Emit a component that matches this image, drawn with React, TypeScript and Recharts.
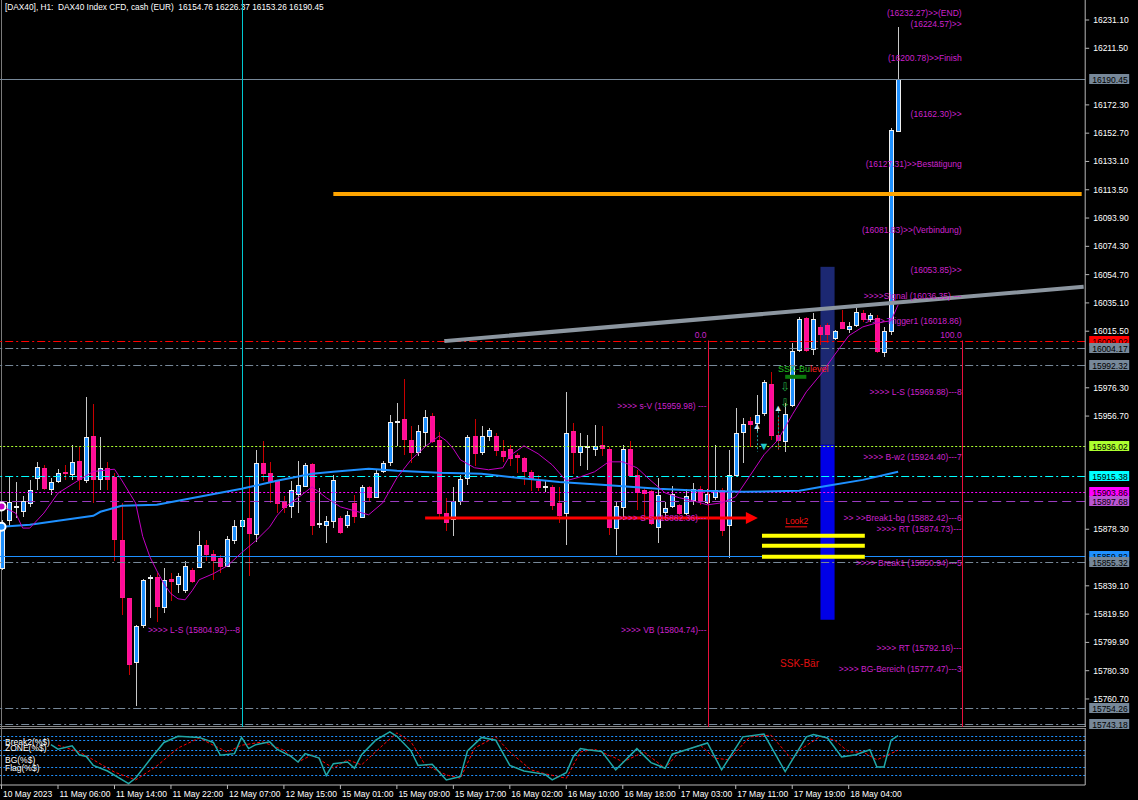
import React from 'react';
import {
  ComposedChart,
  Bar,
  Line,
  XAxis,
  YAxis,
  ReferenceLine,
  ReferenceDot,
  ReferenceArea,
} from 'recharts';

// ---------------- DATA ----------------
const opens = [
  15851, 15884.8, 15894, 15891.3, 15896.8, 15913.7, 15920.9, 15905.6, 15911.4, 15918,
  15917.2, 15925.7, 15912.5, 15943, 15913, 15920.6, 15914.8, 15871, 15830.6, 15786.1,
  15812.1, 15844.5, 15845.2, 15824.8, 15843.8, 15840.5, 15836.4, 15849.8, 15852.1, 15867.1,
  15861.3, 15858.3, 15853, 15870.5, 15880, 15886, 15875.2, 15924.1, 15917.2, 15911.4,
  15897.5, 15894.5, 15902.9, 15908.4, 15923.6, 15882.1, 15881.4, 15884.4, 15886, 15881.4,
  15896.8, 15887.1, 15907.4, 15901, 15918.3, 15925.2, 15953.1, 15954.6, 15940.3, 15932.1,
  15946, 15956.9, 15939.8, 15889.5, 15886, 15897.5, 15914.4, 15943, 15932.1, 15943.2,
  15943.2, 15932.6, 15934, 15929.9, 15927.6, 15918.3, 15911.9, 15907.9, 15907.9, 15896.4,
  15889.5, 15946.5, 15932.1, 15935.6, 15934.3, 15936.6, 15934, 15879.1, 15893.6, 15933.8,
  15916, 15905.6, 15904.5, 15879.8, 15890, 15894.5, 15895.2, 15889.5, 15898.7, 15906.1,
  15897.5, 15901, 15905.6, 15881.4, 15916, 15945.3, 15953, 15952.2, 15958.3, 15979,
  15943.7, 15939.8, 15964.5, 16002.6, 16024.5, 16003.1, 16018.3, 16019.9, 16010.7, 16022.2,
  16016.9, 16019.9, 16028.4, 16023.8, 16024.5, 16000.7, 16015.3, 16154.76,
];
const highs = [
  15885, 15914.6, 15911, 15901, 15912.5, 15925.2, 15922.9, 15913.7, 15920, 15922.9,
  15936.8, 15935.6, 15970.2, 15965.2, 15942.5, 15925.2, 15917.2, 15896.4, 15831, 15812.1,
  15843.8, 15846.8, 15847.9, 15851.4, 15847.9, 15847.9, 15856, 15851.4, 15876.8, 15871,
  15864.1, 15860.6, 15873.3, 15884.9, 15885, 15914.8, 15933.3, 15939.1, 15925.2, 15912.5,
  15901, 15911.4, 15925.9, 15924.1, 15924.1, 15906.8, 15887.6, 15916, 15887.6, 15890.6,
  15902.2, 15909, 15908.5, 15919, 15925.5, 15957.6, 15966, 15982.3, 15949.5, 15950.6,
  15961.1, 15958.5, 15946, 15899.9, 15907.5, 15915.7, 15943.7, 15954.6, 15949.5, 15948.4,
  15944.9, 15939.8, 15936.8, 15931.1, 15928.3, 15919.5, 15916, 15911.4, 15909, 15907.5,
  15973.7, 15951.8, 15944.9, 15943.7, 15950.6, 15949.5, 15935.6, 15897.5, 15936.8, 15939.1,
  15919.5, 15907.9, 15905.6, 15913.7, 15897.5, 15908.2, 15895.5, 15906, 15910.2, 15908,
  15906, 15936.8, 15906.8, 15933.3, 15962.2, 15955.3, 15956.4, 15971.4, 15981.8, 15987.5,
  15956.4, 15965.7, 16007.2, 16025.6, 16025.6, 16028, 16019.9, 16021, 16016.4, 16030.3,
  16022.2, 16031.4, 16030.3, 16028, 16026.8, 16018.7, 16156.1, 16226.37,
];
const lows = [
  15850, 15880, 15886, 15887, 15894, 15905.6, 15905.6, 15902.2, 15910, 15912.5,
  15912.5, 15905.6, 15910.3, 15896.8, 15905.6, 15905.6, 15856, 15819.1, 15777.5, 15755.6,
  15810, 15816.8, 15813.8, 15820.2, 15828.3, 15834, 15834, 15841, 15851.4, 15856,
  15843.3, 15847.9, 15852.5, 15868.2, 15879, 15845.6, 15869.8, 15911.4, 15896.4, 15889.5,
  15889.5, 15886, 15889.5, 15907.7, 15874.5, 15879.1, 15868.7, 15879.1, 15875, 15879.1,
  15882.6, 15886, 15898, 15900, 15917.2, 15921.8, 15936.1, 15929.9, 15924.1, 15928.7,
  15935.6, 15938, 15887.1, 15876.8, 15873.3, 15895, 15909, 15921.8, 15929.9, 15939.1,
  15929.2, 15925.2, 15921.8, 15917.2, 15909, 15904.5, 15905.1, 15903.8, 15891.8, 15882.6,
  15867.5, 15916.7, 15921.8, 15919.5, 15929.2, 15929.2, 15874.5, 15860.6, 15884.9, 15914.8,
  15891.8, 15884.9, 15881.4, 15868.7, 15885, 15893, 15888, 15888.5, 15895.2, 15895,
  15896, 15898.7, 15873.3, 15858.6, 15915, 15924.1, 15935.6, 15944.9, 15957, 15940.3,
  15933.3, 15932.1, 15963.3, 16001.4, 16001.4, 15999.1, 16006, 16007.2, 16009.5, 16016.9,
  16014.1, 16018.7, 16022.2, 16022.2, 16000.3, 15997.9, 16013, 16153.26,
];
const closes = [
  15881, 15897.3, 15894.6, 15898.2, 15905.6, 15921.3, 15907, 15910.7, 15917.2, 15917.3,
  15925.2, 15913, 15942.5, 15913, 15920.6, 15913, 15871.5, 15831.3, 15785.1, 15811,
  15843.3, 15844.9, 15825.3, 15843.3, 15842.2, 15846.1, 15853, 15842.1, 15867.1, 15860.6,
  15857.1, 15852.5, 15871.5, 15880.2, 15884.4, 15875.6, 15924.1, 15917.2, 15911.4, 15896.4,
  15894, 15905.6, 15909.1, 15922.9, 15881.4, 15882.5, 15884.2, 15912.5, 15876.4, 15888.3,
  15888.1, 15907.9, 15900.3, 15917.6, 15924.1, 15952.9, 15953.5, 15940.7, 15932.1, 15946.5,
  15956.4, 15939.8, 15889.5, 15883, 15898.2, 15913, 15942.5, 15931.4, 15943.2, 15947.2,
  15933.3, 15929.2, 15927.6, 15928.3, 15918.3, 15913.7, 15907.5, 15908.2, 15895.2, 15888.3,
  15944.9, 15932.1, 15936.1, 15935.9, 15936.1, 15934.5, 15879.8, 15894.1, 15933.8, 15916,
  15904.5, 15903.3, 15882.6, 15902.2, 15893, 15902.9, 15890, 15901, 15906.1, 15898.2,
  15902.9, 15905.6, 15877.9, 15916, 15944.9, 15951.1, 15951.2, 15957.6, 15980, 15943.7,
  15940.3, 15958.3, 16002.1, 16023.8, 16002.6, 16023.8, 16013.7, 16013.7, 16015.3, 16017.7,
  16019.2, 16029.1, 16024.5, 16026.8, 16001.4, 16015.3, 16154.76, 16190.45,
];

// moving averages: [bar index, price]
const maFastPts: [number, number][] = [
  [0, 15894.1], [2, 15889.5], [3, 15879.1], [4, 15879.1], [6, 15889.5], [8, 15903.3], [11, 15912.5],
  [13, 15918.3], [16, 15919.9], [17, 15912.5], [19, 15896.4], [20, 15873.3], [21, 15859.3], [22, 15849.5],
  [23, 15840.5], [24, 15833.6], [25, 15830.1], [26, 15829.4], [27, 15835.7], [28, 15843.3], [30, 15847.5],
  [32, 15853], [34, 15862], [36, 15870.3], [38, 15880], [39, 15887.6], [40, 15893.1], [42, 15900.1],
  [44, 15907.7], [46, 15900.1], [48, 15893.8], [51, 15889.7], [52, 15888.3], [54, 15896.6], [56, 15913.9],
  [58, 15926.4], [60, 15935.4], [62, 15943], [63, 15939.6], [64, 15934], [65, 15926.4], [67, 15920.9],
  [69, 15919.5], [71, 15920.9], [72, 15929.2], [74, 15936.1], [76, 15930.6], [78, 15922.9], [80, 15911.9],
  [82, 15914.6], [84, 15918.1], [86, 15925], [88, 15925], [90, 15920.9], [92, 15911.9], [94, 15903.5],
  [96, 15900.1], [98, 15898], [100, 15895.2], [102, 15896.6], [104, 15900.8], [106, 15915.3], [108, 15929.9],
  [110, 15940.3], [112, 15957.6], [114, 15973.5], [116, 15985.3], [118, 15999.1], [120, 16012.3],
  [122, 16018.5], [124, 16021.3], [126, 16022.7], [127, 16033.8],
];
const maSlowPts: [number, number][] = [
  [0, 15880.0], [4, 15881.4], [8, 15884.2], [13, 15887.6], [14, 15890.4], [17, 15894.5], [22, 15895.2],
  [28, 15900.8], [34, 15906.3], [39, 15911.9], [44, 15916.7], [47, 15918.1], [52, 15920.2], [56, 15918.8],
  [62, 15917.4], [68, 15916.7], [73, 15913.9], [79, 15911.1], [85, 15909.1], [93, 15906.3], [99, 15904.9],
  [105, 15904.2], [113, 15904.9], [117, 15908.4], [122, 15912.5], [127, 15918.1],
];

// stochastic panel: [bar index, value 0..100]
const stochKPts: [number, number][] = [
  [7, 72], [8, 64], [10, 70], [11, 54], [12, 51], [13, 35], [15, 25], [18, 2.5], [19, 12.5], [21, 45],
  [23, 76], [25, 87], [28, 85], [30, 76], [31, 53], [33, 56], [34, 85], [35, 65], [36, 72], [38, 77],
  [39, 64], [41, 51], [42, 41], [43, 56], [45, 48], [46, 17], [47, 38], [49, 41], [50, 30], [51, 54],
  [53, 80], [55, 95], [56, 87], [58, 61], [59, 35], [61, 37], [63, 9], [65, 15], [66, 61], [68, 85],
  [70, 80], [72, 35], [74, 25], [77, 19], [78, 9], [80, 22], [81, 51], [82, 65], [83, 63], [85, 60],
  [87, 27], [90, 65], [92, 40], [94, 30], [95, 55], [97, 63], [100, 75], [102, 27], [105, 86], [108, 91],
  [111, 24], [114, 86], [115, 90], [117, 84], [119, 50], [121, 54], [123, 63], [124, 32], [125, 32],
  [126, 80], [127, 88],
];
const stochDPts: [number, number][] = [
  [8, 71], [11, 59], [13, 45], [16, 23], [19, 9], [22, 34], [25, 66], [28, 84], [30, 71], [32, 59],
  [34, 71], [37, 77], [40, 62], [42, 41], [44, 54], [47, 30], [49, 45], [51, 36], [54, 71], [56, 93],
  [58, 77], [60, 36], [63, 18], [65, 12], [67, 66], [70, 86], [72, 59], [75, 27], [77, 20], [80, 12],
  [82, 59], [84, 64], [87, 48], [88, 41], [91, 59], [94, 30], [96, 59], [99, 71], [101, 48], [103, 45],
  [106, 86], [109, 89], [112, 45], [113, 62], [116, 87], [118, 80], [120, 59], [122, 59], [124, 45],
  [127, 62],
];
const stochLevels = [88, 80, 62, 54, 32, 17];

// time axis labels (bar index, text)
const timeTickIdx = [0, 8, 16, 24, 32, 40, 48, 56, 64, 72, 80, 88, 96, 104, 112, 120];
const timeTickLabels = [
  '10 May 2023', '11 May 06:00', '11 May 14:00', '11 May 22:00', '12 May 07:00', '12 May 15:00',
  '15 May 01:00', '15 May 09:00', '15 May 17:00', '16 May 02:00', '16 May 10:00', '16 May 18:00',
  '17 May 03:00', '17 May 11:00', '17 May 19:00', '18 May 04:00',
];

// price axis ticks that are visible
const priceTicks = [
  16231.1, 16211.5, 16172.3, 16152.7, 16133.1, 16113.5, 16093.9, 16074.3, 16054.7, 16035.1,
  16015.5, 15976.3, 15956.7, 15878.3, 15839.1, 15819.5, 15799.9, 15780.3, 15760.7,
];

// horizontal price levels (with tags on the price scale)
const levelPrices = [
  16190.45, 16009.02, 16004.17, 15992.32, 15936.02, 15915.38, 15903.86, 15897.68,
  15859.82, 15855.32, 15754.26, 15743.18,
];

// text annotations
const rightNotes = [
  '(16232.27)>>(END)', '(16224.57)>>', '(16200.78)>>Finish', '(16162.30)>>',
  '(16127.31)>>Bestätigung', '(16081.83)>>(Verbindung)', '(16053.85)>>',
  '>>>>Signal (16036.35) ---', '> > > Trigger1 (16018.86)', '100.0',
  '>>>> L-S (15969.88)---8', '>>>> B-w2 (15924.40)---7', '>> >>Break1-bg (15882.42)---6',
  '>>>> RT (15874.73)---', '>>>> Break1 (15850.94)---5', '>>>> RT (15792.16)---',
  '>>>> BG-Bereich (15777.47)---3',
];
const rightNotePrices = [
  16232.27, 16224.57, 16200.78, 16162.3, 16127.31, 16081.83, 16053.85, 16036.35, 16018.86,
  16009.02, 15969.88, 15924.4, 15882.42, 15874.73, 15850.94, 15792.16, 15777.47,
];
const midNotes = ['0.0', '>>>> s-V (15959.98) ---', '>>>> S-S (15882.36)---', '>>>> VB (15804.74)---'];
const midNotePrices = [16009.02, 15959.98, 15882.36, 15804.74];
const leftNotes = ['>>>> L-S (15804.92)---8'];
const leftNotePrices = [15804.92];

// drawn objects
const orangeLevel = 16110.6;
const trendStart = 16008.8;
const trendEnd = 16046.2;
const arrowLevel = 15886;
const yellowLevels = [15873.8, 15866.9, 15859.3];
const zoneTop = 16060.1;
const zoneMid = 15936.8;
const zoneBottom = 15815.6;
const bullLevel = 15983.9;
const lookLevel = 15881.7;
const bearLabelLevel = 15783.1;
const fiboLevel = 16009.02;

const HEADER = '[DAX40], H1:  DAX40 Index CFD, cash (EUR)  16154.76 16226.37 16153.26 16190.45';

// ---------------- LAYOUT / STYLE ----------------
const FONT = '"Liberation Sans", Arial, sans-serif';
const W = 1138;
const MAIN_H = 735;
const MAIN_PAD = 8;
const AXIS_W = 52.8;
const SLOTS = 154;
const PRICE_MIN = 15741.29;
const PRICE_MAX = 16244.96;
const NOTE = '#cc22cc';
const GRID = '#b8b8b8';

const levelStyles = [
  { stroke: '#778899', dash: undefined, bg: '#778899' },
  { stroke: '#ff0000', dash: '8 3 2 3', bg: '#ff0000' },
  { stroke: '#778899', dash: '8 3 2 3', bg: '#778899' },
  { stroke: '#778899', dash: '8 3 2 3', bg: '#778899' },
  { stroke: '#adff2f', dash: '2 2', bg: '#adff2f' },
  { stroke: '#00ffff', dash: '8 3 2 3', bg: '#00ffff' },
  { stroke: '#ff00ff', dash: '2 2', bg: '#ff00ff' },
  { stroke: '#9b3cc0', dash: '9 5', bg: '#ba55d3' },
  { stroke: '#1e90ff', dash: undefined, bg: '#1e90ff' },
  { stroke: '#778899', dash: '8 3 2 3', bg: '#778899' },
  { stroke: '#778899', dash: '8 3 2 3', bg: '#778899' },
  { stroke: '#778899', dash: '8 3 2 3', bg: '#778899' },
];

// ---------------- TABLE ----------------
type Row = {
  i: number;
  o: number | null;
  h: number | null;
  l: number | null;
  c: number | null;
  fast: number | null;
  slow: number | null;
  k: number | null;
  d: number | null;
};
const rows: Row[] = Array.from({ length: SLOTS }, (_, i) => ({
  i,
  o: i < opens.length ? opens[i] : null,
  h: i < highs.length ? highs[i] : null,
  l: i < lows.length ? lows[i] : null,
  c: i < closes.length ? closes[i] : null,
  fast: null,
  slow: null,
  k: null,
  d: null,
}));
maFastPts.forEach(([i, v]) => (rows[i].fast = v));
maSlowPts.forEach(([i, v]) => (rows[i].slow = v));
stochKPts.forEach(([i, v]) => (rows[i].k = v));
stochDPts.forEach(([i, v]) => (rows[i].d = v));

const rangeKey = (r: Row) => (r.o == null ? null : [r.l, r.h]);

// ---------------- SHAPES ----------------
const Candle = (props: any) => {
  const { x, y, width, height, payload } = props;
  if (!payload || payload.o == null || x == null) return null;
  const { o, h, l, c } = payload as any;
  const top = Math.min(y, y + height);
  const bot = Math.max(y, y + height);
  const span = h - l;
  const py = (p: number) => (span > 0 ? top + ((h - p) / span) * (bot - top) : top);
  const cx = Math.round(x + width / 2) + 0.5;
  const bull = c >= o;
  const yO = py(o);
  const yC = py(c);
  const bTop = Math.round(Math.min(yO, yC)) + 0.5;
  const bH = Math.max(1, Math.round(Math.abs(yO - yC)));
  return (
    <g>
      <line x1={cx} x2={cx} y1={Math.round(top)} y2={Math.round(bot)} stroke={bull ? '#c8c8c8' : '#c80000'} strokeWidth={1} />
      <rect
        x={cx - 2}
        y={bTop}
        width={4}
        height={bH}
        fill={bull ? '#1e90ff' : '#ff0a9c'}
        stroke={bull ? '#eeeeee' : '#ff1a8c'}
        strokeWidth={1}
      />
    </g>
  );
};

// thin line shape with explicit colour, snapped to the pixel grid
const thinLine = (stroke: string, dash?: string) => (p: any) => {
  const snap = (v: number) => Math.round(v) + 0.5;
  const vertical = Math.abs(p.x1 - p.x2) < 0.01;
  const horizontal = Math.abs(p.y1 - p.y2) < 0.01;
  return (
    <line
      x1={vertical ? snap(p.x1) : p.x1}
      x2={vertical ? snap(p.x2) : p.x2}
      y1={horizontal ? snap(p.y1) : p.y1}
      y2={horizontal ? snap(p.y2) : p.y2}
      stroke={stroke}
      strokeWidth={1}
      strokeDasharray={dash}
      fill="none"
    />
  );
};

const PriceTag = (bg: string, value: number) => (props: any) => {
  const vb = props.viewBox || {};
  const x0 = (vb.x || 0) + (vb.width || 0) + 4;
  const y0 = vb.y || 0;
  return (
    <g>
      <rect x={x0} y={Math.round(y0) - 5} width={40} height={10} fill={bg} />
      <text x={x0 + 3} y={Math.round(y0) + 3.5} fill="#000" fontSize={8.5} fontFamily={FONT}>
        {value.toFixed(2)}
      </text>
    </g>
  );
};

const textShape =
  (text: string, anchor: 'start' | 'middle' | 'end', color: string, size = 8.5, dx = 0, dy = -2.5) =>
  (p: any) => (
    <text x={p.cx + dx} y={p.cy + dy} textAnchor={anchor} fill={color} fontSize={size} fontFamily={FONT}>
      {text}
    </text>
  );

const YTick = (p: any) => (
  <text x={p.x} y={p.y + 3} fill="#ffffff" fontSize={8.5} fontFamily={FONT} textAnchor="start">
    {Number(p.payload.value).toFixed(2)}
  </text>
);

const XTick = (p: any) => {
  const idx = timeTickIdx.indexOf(Number(p.payload.value));
  return (
    <text x={p.x + 1.5} y={p.y + 6} fill="#ffffff" fontSize={8.5} fontFamily={FONT} textAnchor="start">
      {idx >= 0 ? timeTickLabels[idx] : ''}
    </text>
  );
};

const zoneShape = (fill: string) => (p: any) => {
  const half = (p.width || 0) / 6;
  return <rect x={p.x + half} y={p.y} width={p.width - 2 * half} height={p.height} fill={fill} />;
};

// ---------------- APP ----------------
export default function App() {
  return (
    <div
      style={{
        position: 'absolute',
        left: 0,
        top: 0,
        width: W,
        height: 800,
        background: '#000',
        overflow: 'hidden',
        fontFamily: FONT,
      }}
    >
      {/* panel separators and left frame */}
      <div style={{ position: 'absolute', left: 0, top: 726, width: 1086, height: 1, background: '#8a8a8a' }} />
      <div style={{ position: 'absolute', left: 0, top: 728, width: 1086, height: 1, background: '#8a8a8a' }} />
      <div style={{ position: 'absolute', left: 1, top: 0, width: 1, height: 786, background: '#7a7a7a' }} />

      {/* header */}
      <div
        style={{
          position: 'absolute',
          left: 5,
          top: 2,
          color: '#ffffff',
          fontSize: 8.3,
          fontFamily: FONT,
          whiteSpace: 'pre',
          lineHeight: '11px',
        }}
      >
        {HEADER}
      </div>

      {/* indicator panel */}
      <div style={{ position: 'absolute', left: 0, top: 727 }}>
        <ComposedChart width={W} height={73} data={rows} margin={{ top: 2, right: 0, left: -2, bottom: 0 }}>
          <XAxis
            dataKey="i"
            height={15}
            ticks={timeTickIdx}
            interval={0}
            tickSize={4}
            tickMargin={2}
            tickLine={{ stroke: GRID }}
            axisLine={{ stroke: GRID }}
            tick={<XTick />}
          />
          <YAxis
            yAxisId="s"
            orientation="right"
            width={AXIS_W}
            type="number"
            domain={[0, 100]}
            allowDataOverflow
            tick={false}
            tickLine={false}
            axisLine={{ stroke: GRID }}
          />
          {stochLevels.map((v, k) => (
            <ReferenceLine key={'sl' + k} yAxisId="s" y={v} shape={thinLine('#1e90ff', '2 2')} />
          ))}
          <Bar yAxisId="s" dataKey="none" isAnimationActive={false} />
          <Line yAxisId="s" dataKey="d" stroke="#ff0000" strokeDasharray="3 2" strokeWidth={1} dot={false} connectNulls isAnimationActive={false} />
          <Line yAxisId="s" dataKey="k" stroke="#20a8a8" strokeWidth={1.5} dot={false} connectNulls isAnimationActive={false} />
        </ComposedChart>
      </div>

      {/* indicator labels */}
      {['Break2(%$)', 'ZONE(%$)', 'BG(%$)', 'Flag(%$)'].map((t, k) => (
        <div
          key={t}
          style={{
            position: 'absolute',
            left: 5,
            top: [737, 743, 755, 763][k],
            color: '#ffffff',
            fontSize: 8.5,
            fontFamily: FONT,
            lineHeight: '10px',
          }}
        >
          {t}
        </div>
      ))}

      {/* main price panel */}
      <div style={{ position: 'absolute', left: 0, top: 0 }}>
        <ComposedChart
          width={W}
          height={MAIN_H}
          data={rows}
          margin={{ top: 0, right: 0, left: -2, bottom: MAIN_PAD }}
          barCategoryGap={1}
        >
          <XAxis dataKey="i" hide />
          <YAxis
            yAxisId="p"
            orientation="right"
            width={AXIS_W}
            type="number"
            domain={[PRICE_MIN, PRICE_MAX]}
            allowDataOverflow
            ticks={priceTicks}
            interval={0}
            tickSize={4}
            tickMargin={4}
            tickLine={{ stroke: GRID }}
            axisLine={{ stroke: GRID }}
            tick={<YTick />}
          />

          {/* zone rectangle */}
          <ReferenceArea yAxisId="p" x1={116} x2={118} y1={zoneMid} y2={zoneTop} shape={zoneShape('#1c2872')} ifOverflow="visible" />
          <ReferenceArea yAxisId="p" x1={116} x2={118} y1={zoneBottom} y2={zoneMid} shape={zoneShape('#0000e6')} ifOverflow="visible" />

          {/* horizontal levels */}
          {levelPrices.map((p, k) => (
            <ReferenceLine
              key={'lv' + k}
              yAxisId="p"
              y={p}
              shape={thinLine(levelStyles[k].stroke, levelStyles[k].dash)}
              label={PriceTag(levelStyles[k].bg, p)}
            />
          ))}

          {/* vertical lines */}
          <ReferenceLine yAxisId="p" x={34} shape={thinLine('#00c8d0')} />
          <ReferenceLine yAxisId="p" segment={[{ x: 100, y: fiboLevel }, { x: 100, y: PRICE_MIN }]} shape={thinLine('#e8103c')} />
          <ReferenceLine yAxisId="p" segment={[{ x: 136, y: fiboLevel }, { x: 136, y: PRICE_MIN }]} shape={thinLine('#e8103c')} />

          {/* objects */}
          <ReferenceLine yAxisId="p" segment={[{ x: 47, y: orangeLevel }, { x: 153, y: orangeLevel }]} stroke="#ffa500" strokeWidth={4} />
          <ReferenceLine yAxisId="p" segment={[{ x: 63, y: trendStart }, { x: 153, y: trendEnd }]} stroke="#8c96a0" strokeWidth={4} strokeLinecap="square" />
          <ReferenceLine yAxisId="p" segment={[{ x: 60, y: arrowLevel }, { x: 106, y: arrowLevel }]} stroke="#ff0000" strokeWidth={3} />
          <ReferenceDot
            yAxisId="p"
            x={106}
            y={arrowLevel}
            r={0}
            shape={(p: any) => (
              <polygon points={`${p.cx - 4},${p.cy - 6} ${p.cx + 8},${p.cy} ${p.cx - 4},${p.cy + 6}`} fill="#ff0000" />
            )}
          />
          {yellowLevels.map((p, k) => (
            <ReferenceLine
              key={'yl' + k}
              yAxisId="p"
              segment={[{ x: 108, y: p }, { x: 122, y: p }]}
              stroke="#ffff00"
              strokeWidth={4}
              strokeLinecap="square"
            />
          ))}
          <ReferenceLine yAxisId="p" segment={[{ x: 111, y: bullLevel }, { x: 114, y: bullLevel }]} stroke="#0b7a0b" strokeWidth={4} />
          <ReferenceLine yAxisId="p" segment={[{ x: 107, y: 15949 }, { x: 107, y: 15932 }]} shape={thinLine('#1a9a9a', '2 2')} />
          <ReferenceLine yAxisId="p" segment={[{ x: 110, y: 15960 }, { x: 110, y: 15934 }]} shape={thinLine('#1a9a9a', '2 2')} />

          {/* text notes */}
          {rightNotes.map((t, k) => (
            <ReferenceDot key={'rn' + k} yAxisId="p" x={136} y={rightNotePrices[k]} r={0} shape={textShape(t, 'end', NOTE)} />
          ))}
          {midNotes.map((t, k) => (
            <ReferenceDot key={'mn' + k} yAxisId="p" x={100} y={midNotePrices[k]} r={0} shape={textShape(t, 'end', NOTE, 8.5, -1)} />
          ))}
          {leftNotes.map((t, k) => (
            <ReferenceDot key={'ln' + k} yAxisId="p" x={34} y={leftNotePrices[k]} r={0} shape={textShape(t, 'end', NOTE, 8.5, -1.5)} />
          ))}
          <ReferenceDot
            yAxisId="p"
            x={110}
            y={bullLevel}
            r={0}
            shape={(p: any) => (
              <text x={p.cx} y={p.cy - 5} fontSize={9} fontFamily={FONT}>
                <tspan fill="#22c022">SSK-Bu</tspan>
                <tspan fill="#ff2020">level</tspan>
              </text>
            )}
          />
          <ReferenceDot
            yAxisId="p"
            x={111}
            y={lookLevel}
            r={0}
            shape={(p: any) => (
              <g>
                <text x={p.cx} y={p.cy} fill="#ff1010" fontSize={8.5} fontFamily={FONT}>
                  Look2
                </text>
                <line x1={p.cx} x2={p.cx + 22} y1={p.cy + 2.5} y2={p.cy + 2.5} stroke="#ff1010" strokeWidth={1} />
              </g>
            )}
          />
          <ReferenceDot yAxisId="p" x={110} y={bearLabelLevel} r={0} shape={textShape('SSK-Bär', 'start', '#e01010', 10, 2, 0)} />
          <ReferenceDot yAxisId="p" x={111} y={15977.6} r={0} shape={textShape('⇩', 'middle', '#22aa44', 12, 0, 5)} />
          <ReferenceDot yAxisId="p" x={111} y={15966.6} r={0} shape={textShape('⇩', 'middle', '#22aa44', 12, 0, 5)} />
          <ReferenceDot yAxisId="p" x={107} y={15950.6} r={0} shape={textShape('▲', 'middle', '#cfe6ee', 9, 0, 4)} />
          <ReferenceDot yAxisId="p" x={110} y={15963.1} r={0} shape={textShape('▲', 'middle', '#cfe6ee', 9, 0, 4)} />
          <ReferenceDot yAxisId="p" x={108} y={15936.1} r={0} shape={textShape('▼', 'middle', '#20c8c8', 11, 0, 4)} />

          {/* moving averages */}
          <Line yAxisId="p" dataKey="slow" stroke="#1e90ff" strokeWidth={2} dot={false} connectNulls isAnimationActive={false} />
          <Line yAxisId="p" dataKey="fast" stroke="#c400c4" strokeWidth={1} dot={false} connectNulls isAnimationActive={false} />

          {/* candles */}
          <Bar yAxisId="p" dataKey={rangeKey as any} shape={<Candle />} barSize={5} isAnimationActive={false} />
        </ComposedChart>
      </div>
    </div>
  );
}
